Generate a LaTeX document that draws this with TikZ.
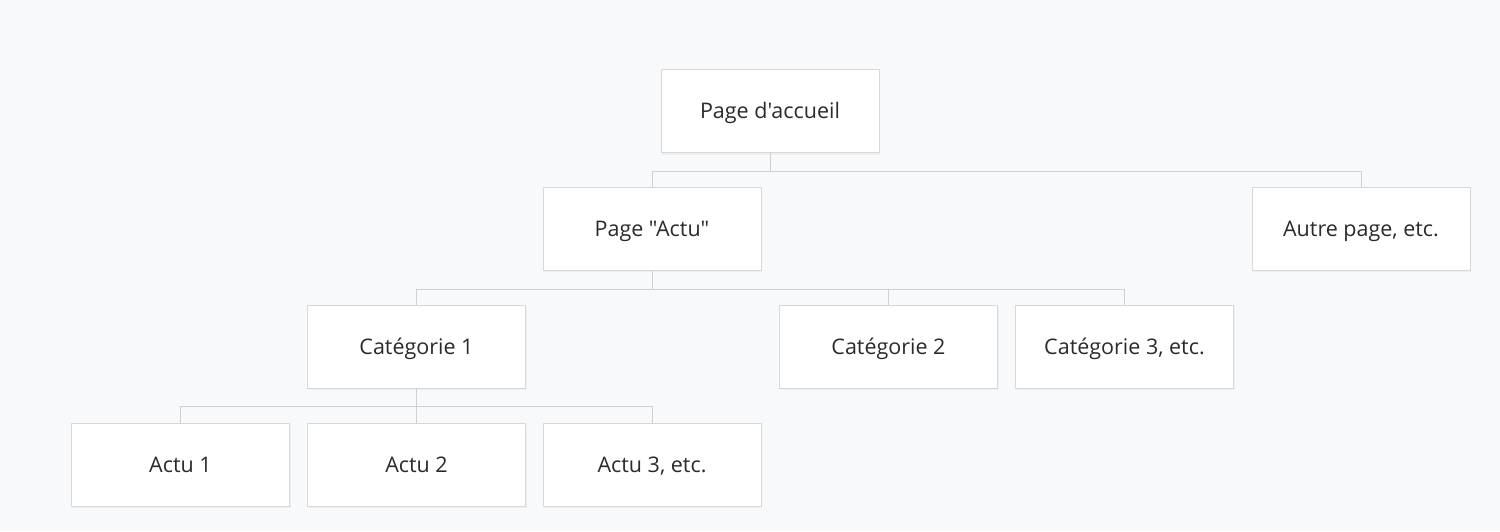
\documentclass[tikz,border=0pt]{standalone}
\usepackage{fontspec}
\setmainfont{Open Sans}[Ligatures=TeXOff]
\usepackage{xcolor}
\usepackage{tikz}
\usetikzlibrary{shadows}
\definecolor{bg}{HTML}{F8F9FA}
\definecolor{edge}{HTML}{D6D8DA}
\definecolor{wire}{HTML}{CDD0D3}
\definecolor{ink}{HTML}{2B2B2B}
\tikzset{
  page/.style={draw=edge, line width=0.9pt, fill=white, text=ink,
    minimum width=218pt, minimum height=83pt, inner sep=0pt,
    text height=15.6pt, text depth=0pt,
    font=\fontsize{21.5}{25}\selectfont,
    drop shadow={opacity=0.08, shadow xshift=1pt, shadow yshift=-2pt}},
  link/.style={draw=wire, line width=0.9pt},
}
\begin{document}
\begin{tikzpicture}[x=1pt, y=-1pt]
  \fill[bg] (0,0) rectangle (1500,531);
  \useasboundingbox (0,0) rectangle (1500,531);

  \node[page] (home)  at (770,111)   {Page d'accueil};
  \node[page] (actu)  at (652,228.5) {Page "Actu"};
  \node[page] (autre) at (1361,228.5) {Autre page, etc.};
  \node[page] (cat1)  at (416.5,346.5) {Catégorie 1};
  \node[page] (cat2)  at (888.5,346.5) {Catégorie 2};
  \node[page] (cat3)  at (1124.5,346.5) {Catégorie 3, etc.};
  \node[page] (actu1) at (180.5,464.5) {Actu 1};
  \node[page] (actu2) at (416.5,464.5) {Actu 2};
  \node[page] (actu3) at (652,464.5)   {Actu 3, etc.};

  \draw[link] (home.south) -- ++(0,18) -| (actu.north);
  \draw[link] (home.south) -- ++(0,18) -| (autre.north);
  \draw[link] (actu.south) -- ++(0,18.5) -| (cat1.north);
  \draw[link] (actu.south) -- ++(0,18.5) -| (cat2.north);
  \draw[link] (actu.south) -- ++(0,18.5) -| (cat3.north);
  \draw[link] (cat1.south) -- ++(0,18) -| (actu1.north);
  \draw[link] (cat1.south) -- ++(0,18) -| (actu2.north);
  \draw[link] (cat1.south) -- ++(0,18) -| (actu3.north);
\end{tikzpicture}
\end{document}
